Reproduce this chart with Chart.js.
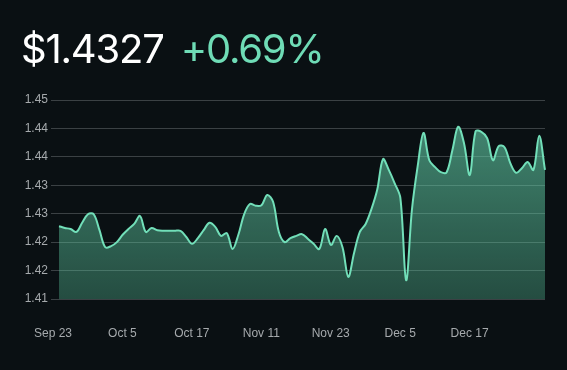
<!DOCTYPE html>
<html>
<head>
<meta charset="utf-8">
<script src="https://cdn.jsdelivr.net/npm/chart.js@4"></script>
<style>
  html, body { margin: 0; padding: 0; background: #0a1013; }
  .wrap { position: relative; width: 567px; height: 370px; }
  .head { position: absolute; left: 21px; top: 24px; font-family: Inter, "Open Sans", sans-serif; font-size: 40px; letter-spacing: -1.2px; }
  .price { color: #ffffff; }
  .chg { color: #6fdcb6; margin-left: 17px; }
  canvas { position: absolute; left: 0; top: 0; }
</style>
</head>
<body>
<div class="wrap">
  <canvas id="priceChart" width="567" height="370"></canvas>
  <div class="head"><span class="price">$1.4327</span><span class="chg">+0.69%</span></div>
</div>
<script>
// daily closes, with a gap between Oct 23 and Nov 6
var prices = [
  1.4228, 1.4225, 1.4223, 1.4218, 1.4234, 1.4249, 1.4249, 1.4221, 1.4191, 1.4193,
  1.4200, 1.4213, 1.4223, 1.4232, 1.4246, 1.4218, 1.4225, 1.4221, 1.4220, 1.4220,
  1.4220, 1.4220, 1.4209, 1.4197, 1.4207, 1.4221, 1.4234, 1.4227, 1.4211, 1.4216,
  1.4188, 1.4213, 1.4249, 1.4267, 1.4264, 1.4265, 1.4283, 1.4271, 1.4218, 1.4200,
  1.4207, 1.4211, 1.4214, 1.4206, 1.4197, 1.4188, 1.4223, 1.4195, 1.4211, 1.4191,
  1.4139, 1.4181, 1.4218, 1.4232, 1.4258, 1.4292, 1.4346, 1.4327, 1.4304, 1.4278,
  1.4133, 1.4257, 1.4334, 1.4392, 1.4344, 1.4332, 1.4323, 1.4323, 1.4362, 1.4403,
  1.4374, 1.4318, 1.4395, 1.4394, 1.4383, 1.4344, 1.4369, 1.4367, 1.4339, 1.4322,
  1.4330, 1.4341, 1.4327, 1.4387, 1.4327
];

var months = ['Jan','Feb','Mar','Apr','May','Jun','Jul','Aug','Sep','Oct','Nov','Dec'];
var dateRanges = [['2023-09-23', '2023-10-23'], ['2023-11-06', '2023-12-29']];
var yTicks = [1.41, 1.415, 1.42, 1.425, 1.43, 1.435, 1.44, 1.445];
var yTickLabels = ['1.41', '1.42', '1.42', '1.43', '1.43', '1.44', '1.44', '1.45'];

var labels = [];
dateRanges.forEach(function (r) {
  var d = new Date(r[0] + 'T12:00:00');
  var end = new Date(r[1] + 'T12:00:00');
  while (d <= end) {
    labels.push(months[d.getMonth()] + ' ' + d.getDate());
    d.setDate(d.getDate() + 1);
  }
});

var ctx = document.getElementById('priceChart').getContext('2d');

var myChart = new Chart(ctx, {
  type: 'line',
  data: {
    labels: labels,
    datasets: [{
      data: prices,
      borderColor: '#72dfb9',
      borderWidth: 2,
      pointRadius: 0,
      tension: 0.35,
      fill: 'start',
      backgroundColor: function (c) {
        var area = c.chart.chartArea;
        if (!area) return 'rgba(100,210,170,0.5)';
        var g = c.chart.ctx.createLinearGradient(0, area.top, 0, area.bottom);
        g.addColorStop(0, 'rgba(104,214,176,0.64)');
        g.addColorStop(1, 'rgba(90,196,156,0.34)');
        return g;
      }
    }]
  },
  options: {
    responsive: false,
    animation: false,
    layout: { padding: { top: 100, right: 22, left: 0, bottom: 0 } },
    plugins: { legend: { display: false }, tooltip: { enabled: false } },
    scales: {
      x: {
        grid: { display: false, drawTicks: true, tickLength: 27 },
        border: { display: false },
        afterFit: function (s) { s.height = 71; },
        ticks: {
          autoSkip: false,
          maxRotation: 0,
          padding: 0,
          labelOffset: -6,
          color: '#a6aaad',
          font: { family: '"Liberation Sans", Arial, sans-serif', size: 12 },
          callback: function (v, i) {
            return (i % 12 === 0 && i < labels.length - 1) ? labels[i] : '';
          }
        }
      },
      y: {
        min: 1.41,
        max: 1.445,
        afterFit: function (s) { s.width = 59; },
        afterBuildTicks: function (s) {
          s.ticks = yTicks.map(function (v) { return { value: v }; });
        },
        grid: { color: '#3b4144', lineWidth: 1, tickLength: 8 },
        border: { display: false },
        ticks: {
          padding: 3,
          color: '#a6aaad',
          font: { family: '"Liberation Sans", Arial, sans-serif', size: 12 },
          callback: function (v, i) { return yTickLabels[i]; }
        }
      }
    }
  }
});
</script>
</body>
</html>
